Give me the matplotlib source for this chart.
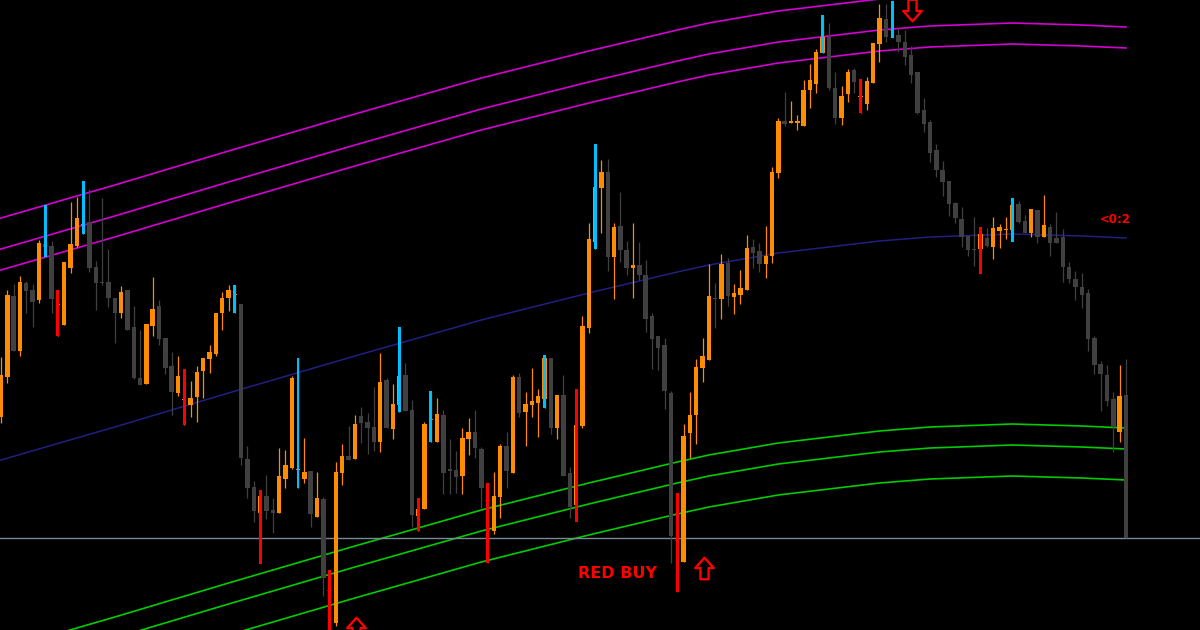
import numpy as np
import matplotlib
matplotlib.use("Agg")
import matplotlib.pyplot as plt
from matplotlib.path import Path

# ---- candle data (price units) ----
opens = [213, 253, 334, 279, 347, 340, 330, 386, 384, 325, 305, 362, 384, 405, 408, 363, 348, 348, 332, 317,
         340, 303, 252, 246, 304, 324, 292, 264, 237, 230, 225, 233, 259, 271, 276, 317, 332, 335, 326, 171,
         143, 117, 134, 120, 117, 151, 162, 160, 151, 159, 113, 131, 40, 7, 157, 174, 171, 214, 208, 203,
         188, 250, 201, 225, 255, 220, 114, 121, 210, 188, 215, 161, 160, 154, 191, 198, 181, 130, 99, 133,
         184, 157, 253, 218, 225, 227, 231, 272, 202, 235, 157, 125, 204, 302, 388, 442, 458, 373, 404, 380,
         362, 365, 355, 314, 294, 285, 237, 90, 68, 197, 215, 262, 270, 332, 331, 367, 333, 335, 340, 383,
         379, 366, 374, 457, 509, 507, 507, 504, 540, 546, 577, 593, 542, 512, 536, 560, 533, 526, 547, 586,
         611, 600, 595, 588, 575, 558, 520, 508, 480, 460, 449, 427, 411, 394, 381, 381, 392, 383, 399, 400,
         400, 426, 409, 397, 420, 393, 403, 392, 393, 363, 351, 343, 337, 292, 266, 255, 231, 198, 235]
highs = [273, 340, 346, 354, 349, 346, 390, 386, 389, 340, 368, 428, 433, 449, 441, 369, 432, 381, 332, 344,
         340, 324, 300, 306, 353, 330, 292, 278, 274, 261, 249, 264, 272, 285, 317, 338, 345, 345, 326, 184,
         149, 137, 155, 132, 182, 180, 254, 272, 192, 159, 158, 133, 60, 168, 186, 204, 215, 223, 217, 243,
         277, 252, 246, 254, 267, 230, 132, 208, 239, 232, 220, 191, 179, 202, 212, 220, 183, 147, 158, 186,
         198, 255, 257, 238, 262, 241, 275, 272, 235, 255, 163, 210, 314, 407, 486, 470, 471, 407, 438, 389,
         407, 388, 370, 317, 294, 292, 239, 137, 206, 238, 271, 292, 366, 347, 376, 372, 346, 360, 395, 391,
         387, 404, 463, 512, 538, 529, 515, 550, 566, 581, 615, 607, 558, 544, 561, 562, 551, 553, 587, 626,
         626, 629, 602, 600, 584, 558, 532, 510, 486, 469, 449, 428, 423, 394, 413, 398, 402, 413, 406, 413,
         425, 429, 415, 421, 420, 435, 406, 418, 401, 368, 359, 357, 341, 294, 269, 265, 238, 265, 271]
lows = [207, 247, 279, 274, 317, 303, 327, 383, 317, 294, 305, 357, 383, 396, 358, 320, 345, 323, 287, 312,
        300, 251, 245, 246, 294, 285, 256, 215, 234, 205, 213, 208, 232, 257, 274, 300, 319, 317, 165, 132,
        108, 114, 111, 97, 117, 142, 161, 142, 147, 103, 113, 34, 0, 4, 145, 170, 171, 187, 176, 179,
        178, 202, 191, 218, 219, 103, 99, 121, 188, 188, 136, 136, 137, 136, 175, 172, 122, 67, 96, 112,
        142, 157, 213, 184, 213, 193, 222, 196, 191, 154, 112, 120, 202, 297, 381, 397, 359, 331, 368, 355,
        332, 350, 298, 261, 260, 221, 67, 38, 68, 172, 186, 248, 270, 302, 311, 324, 316, 326, 340, 362,
        358, 352, 367, 452, 504, 507, 500, 504, 522, 537, 577, 540, 506, 505, 528, 537, 517, 520, 547, 568,
        588, 592, 578, 565, 547, 516, 498, 468, 453, 434, 414, 407, 383, 374, 364, 378, 383, 371, 382, 391,
        395, 407, 397, 393, 387, 393, 374, 387, 348, 347, 330, 322, 279, 256, 219, 224, 178, 188, 92]
closes = [255, 335, 279, 348, 339, 328, 387, 383, 331, 326, 368, 386, 412, 406, 362, 347, 347, 332, 317, 338,
          300, 252, 245, 306, 321, 291, 262, 238, 254, 231, 232, 258, 272, 278, 317, 332, 340, 336, 172, 142,
          119, 134, 119, 117, 154, 165, 252, 161, 158, 116, 132, 52, 39, 158, 174, 170, 206, 207, 202, 188,
          248, 202, 226, 254, 219, 115, 121, 206, 211, 216, 157, 159, 153, 192, 198, 182, 142, 129, 134, 184,
          159, 253, 217, 226, 229, 234, 272, 202, 235, 154, 123, 205, 304, 391, 443, 458, 373, 403, 380, 362,
          365, 355, 311, 291, 282, 239, 94, 89, 194, 215, 263, 274, 334, 331, 366, 334, 337, 342, 382, 377,
          366, 374, 458, 509, 506, 509, 509, 540, 550, 578, 593, 542, 512, 534, 558, 548, 534, 549, 587, 612,
          593, 599, 588, 573, 555, 517, 506, 477, 460, 448, 426, 412, 393, 380, 380, 396, 384, 402, 403, 401,
          425, 408, 397, 421, 393, 405, 387, 387, 363, 351, 343, 335, 291, 265, 256, 229, 203, 234, 92]

# signal overlays: (candle index, top price, bottom price)
cyan_idx = [7, 13, 37, 47, 63, 68, 86, 94, 130, 141, 160]
cyan_top = [425, 449, 345, 272, 303, 239, 275, 486, 615, 629, 432]
cyan_bot = [373, 396, 317, 142, 218, 188, 222, 381, 577, 592, 388]

red_idx = [9, 29, 41, 52, 66, 77, 91, 107, 136, 155]
red_top = [340, 261, 140, 60, 132, 147, 241, 137, 551, 403]
red_bot = [294, 205, 66, 0, 99, 67, 108, 38, 517, 356]

# regression channel centre (read at candle indices) and band offsets
mid_idx = [-1, 0, 18, 36, 56, 76, 93, 107, 112, 123, 131, 139, 147, 160, 171, 178]
mid_val = [168, 170, 203, 237, 274, 310, 337, 358, 365, 377, 383, 389, 393, 396, 394, 392]
band_offsets = [190, 211, 242]

bid_price = 92

# arrows: (index, price)
up_arrows_x = [56.1, 111.2]
up_arrows_y = [2.5, 62.5]
down_arrows_x = [144.2]
down_arrows_y = [620.5]

ORANGE = "#FF8C00"
GRAY = "#404040"
CYAN = "#00BFFF"
RED = "#FF0000"
MAGENTA = "#D400D4"
NAVY = "#202080"
GREEN = "#00CC00"

fig = plt.figure(figsize=(12, 6.3), dpi=100, facecolor="black")
ax = fig.add_axes([0, 0, 1, 1])
ax.set_facecolor("black")
ax.set_xlim(-1 / 6.32, 1199 / 6.32)
ax.set_ylim(0, 630)
ax.axis("off")

# channel lines
mi = np.array(mid_idx, dtype=float)
mv = np.array(mid_val, dtype=float)
ax.plot(mi, mv, color=NAVY, lw=1.1, zorder=1)
for off in band_offsets:
    ax.plot(mi, mv + off, color=MAGENTA, lw=1.2, zorder=1)
    ax.plot(mi, mv - off, color=GREEN, lw=1.2, zorder=1)

# bid line
ax.axhline(bid_price, color="#7A8899", lw=1.0, zorder=1)

# candles
o = np.array(opens, float); h = np.array(highs, float)
l = np.array(lows, float); c = np.array(closes, float)
x = np.arange(len(o))
cols = [ORANGE if cc > oo else GRAY for oo, cc in zip(o, c)]
ax.vlines(x, l, h, colors=cols, lw=0.9, zorder=2)
bottoms = np.minimum(o, c)
heights = np.maximum(np.abs(c - o), 1.2)
ax.bar(x, heights, width=0.7, bottom=bottoms, color=cols, zorder=3, linewidth=0)

# overlays
ct = np.array(cyan_top, float); cb = np.array(cyan_bot, float)
ax.bar(cyan_idx, ct - cb, width=0.45, bottom=cb, color=CYAN, zorder=4, linewidth=0)
rt = np.array(red_top, float); rb = np.array(red_bot, float)
ax.bar(red_idx, rt - rb, width=0.45, bottom=rb, color=RED, zorder=4, linewidth=0)

# hollow arrows
up_path = Path([(-0.19, -0.5), (0.19, -0.5), (0.19, 0.02), (0.43, 0.02), (0.0, 0.5),
                (-0.43, 0.02), (-0.19, 0.02), (-0.19, -0.5)], closed=True)
down_path = Path([(-0.19, 0.5), (0.19, 0.5), (0.19, -0.02), (0.43, -0.02), (0.0, -0.5),
                  (-0.43, -0.02), (-0.19, -0.02), (-0.19, 0.5)], closed=True)
ax.plot(up_arrows_x, up_arrows_y, ls="none", marker=up_path, markersize=15.5,
        markerfacecolor="none", markeredgecolor=RED, markeredgewidth=1.7, zorder=5, clip_on=False)
ax.plot(down_arrows_x, down_arrows_y, ls="none", marker=down_path, markersize=15.5,
        markerfacecolor="none", markeredgecolor=RED, markeredgewidth=1.7, zorder=5, clip_on=False)

# labels
ax.text(91.3, 56, "RED BUY", color=RED, fontsize=11.5, fontweight="bold",
        family="DejaVu Sans", ha="left", va="center", zorder=6)
ax.text(173.9, 410.5, "<0:2", color=RED, fontsize=8.5, fontweight="bold",
        family="DejaVu Sans", ha="left", va="center", zorder=6)

fig.savefig("out.png", dpi=100, facecolor="black")
